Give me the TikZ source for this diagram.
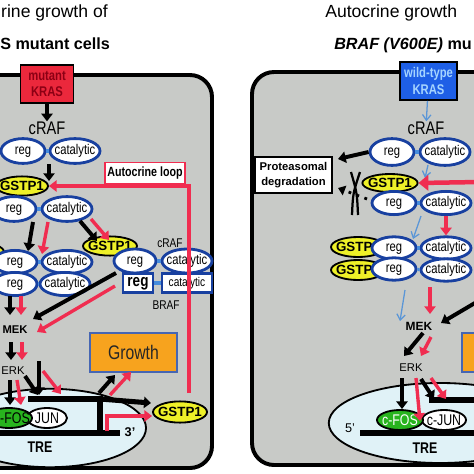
\documentclass[tikz,border=0pt]{standalone}
\usepackage{fontspec}
\setmainfont{Liberation Sans}
\newfontfamily\narrowfont{Liberation Sans}[FakeStretch=0.8]
\usetikzlibrary{arrows.meta,shapes.geometric,calc}

\definecolor{cellgray}{RGB}{200,202,199}
\definecolor{nucblue}{RGB}{224,242,247}
\definecolor{dimerblue}{RGB}{24,64,160}
\definecolor{linkblue}{RGB}{70,140,220}
\definecolor{thinblue}{RGB}{90,150,215}
\definecolor{sigred}{RGB}{240,45,80}
\definecolor{gstyellow}{RGB}{238,240,40}
\definecolor{fosgreen}{RGB}{40,180,30}
\definecolor{growthorange}{RGB}{247,163,30}
\definecolor{krasred}{RGB}{235,40,60}
\definecolor{krasblue}{RGB}{30,95,230}
\definecolor{krastext}{RGB}{140,0,20}
\definecolor{wttext}{RGB}{165,212,255}

\tikzset{
  cellwall/.style={draw=black, line width=2.8pt, fill=cellgray, rounded corners=0.55cm},
  nucleus/.style={draw=black, line width=1.3pt, fill=nucblue},
  dimer/.style={ellipse, draw=dimerblue, line width=2pt, fill=white, inner xsep=-2pt, inner ysep=0pt,
    text height=7pt, text depth=2pt, font=\narrowfont\fontsize{10}{12}\selectfont},
  regE/.style={dimer, minimum width=1.1cm, minimum height=0.62cm},
  catE/.style={dimer, minimum width=1.25cm, minimum height=0.62cm},
  dimerbox/.style={rectangle, draw=dimerblue, line width=2pt, fill=white, inner sep=0pt,
    minimum height=0.48cm, text height=7pt, text depth=2pt, font=\narrowfont\fontsize{9}{11}\selectfont},
  gstp/.style={ellipse, draw=black, line width=1.3pt, fill=gstyellow, inner xsep=-2pt, inner ysep=0pt,
    minimum width=1.3cm, minimum height=0.48cm, text height=7pt, text depth=0pt,
    font=\bfseries\fontsize{9.5}{11}\selectfont},
  factor/.style={ellipse, draw=black, line width=1.3pt, inner xsep=-2pt, inner ysep=0pt,
    minimum height=0.5cm, text height=7.5pt, text depth=0pt, font=\narrowfont\fontsize{11}{13}\selectfont},
  link/.style={draw=linkblue, line width=2.2pt},
  blk/.style={draw=black, line width=2.8pt, -{Triangle[length=5.5pt,width=8pt]}},
  redarr/.style={draw=sigred, line width=2.4pt, -{Triangle[length=5.5pt,width=8pt]}},
  bluearr/.style={draw=thinblue, line width=0.9pt, -{Straight Barb[length=4pt,width=6pt]}},
  dna/.style={draw=black, line width=3.6pt},
  krasbox/.style={rectangle, draw=black, line width=1.2pt, align=center, inner sep=0pt,
    minimum width=1.33cm, minimum height=0.95cm, font=\narrowfont\bfseries\fontsize{10}{11.5}\selectfont},
  growthbox/.style={rectangle, draw=dimerblue!80, line width=1pt, fill=growthorange,
    minimum width=2.175cm, minimum height=0.975cm, text=black!85, font=\narrowfont\fontsize{14}{16}\selectfont},
  titletext/.style={inner sep=0pt, font=\fontsize{12.5}{15}\selectfont},
  titlebold/.style={inner sep=0pt, font=\bfseries\fontsize{11.5}{14}\selectfont},
  crafbig/.style={inner sep=0pt, font=\narrowfont\fontsize{13}{15}\selectfont},
  smalltxt/.style={inner sep=0pt, font=\narrowfont\fontsize{9}{11}\selectfont},
  kinase/.style={inner sep=0pt, font=\fontsize{8}{10}\selectfont},
}

\begin{document}
\begin{tikzpicture}[x=0.025cm, y=-0.025cm]
  \useasboundingbox (0,0) rectangle (474,474);
  \clip (0,0) rectangle (474,474);

  % titles (cut by the frame)
  \node[titletext, anchor=base east] (titleL) at (108,17) {rine growth of};
  \node[titlebold, anchor=base west] (subL) at (0,49) {S mutant cells};
  \node[titletext, anchor=base west] (titleR) at (325,17) {Autocrine growth};
  \node[titlebold, anchor=base west] (subR) at (334,49) {\textit{BRAF (V600E)} mu};

  % cells and nuclei
  \draw[cellwall] (-60,75) rectangle (212,468);
  \draw[cellwall] (252,72) rectangle (560,465);
  \draw[nucleus] (50,428) ellipse [x radius=2.4cm, y radius=0.98cm];
  \draw[nucleus] (440,423) ellipse [x radius=2.78cm, y radius=1cm];

  % genes
  \draw[dna] (28,399) -- (100,399);
  \draw[dna, -{Triangle[length=5pt,width=8pt]}] (100,399) -- (151,403);
  \draw[dna] (100,396) -- (100,431);
  \draw[dna, line width=4.3pt] (-5,433) -- (120,433);
  \draw[dna] (429,400) -- (480,400);
  \draw[dna, line width=4.3pt] (360,433) -- (480,433);

  %%%% left cell: KRAS mutant
  \node[krasbox, fill=krasred, text=krastext] (krasL) at (47,84) {mutant\\KRAS};
  \node[crafbig] (crafL) at (47,128) {cRAF};
  \draw[blk] (krasL) -- (crafL);

  \node[regE] (regA) at (23,151) {reg};
  \node[catE] (catA) at (75,151) {catalytic};
  \draw[link] (regA) -- (catA);

  \node[gstp, inner xsep=-3.5pt] (gstA) at (22,186) {GSTP1};
  \node[regE] (regB) at (14,209) {reg};
  \node[catE] (catB) at (67,209) {catalytic};
  \draw[link] (regB) -- (catB);

  \node[gstp] (gstC) at (-22,252) {};
  \node[regE, minimum height=0.58cm] (regC) at (15,262) {reg};
  \node[catE, minimum height=0.58cm] (catC) at (67,262) {catalytic};
  \draw[link] (regC) -- (catC);
  \node[regE, minimum height=0.58cm] (regD) at (15,284) {reg};
  \node[catE, minimum height=0.58cm] (catD) at (65,284) {catalytic};
  \draw[link] (regD) -- (catD);

  % cRAF/BRAF heterodimer
  \node[gstp] (gstE) at (110,246) {GSTP1};
  \node[smalltxt] (crafS) at (170,243) {cRAF};
  \node[regE, minimum width=1.05cm, minimum height=0.6cm] (regH) at (135,261) {reg};
  \node[catE, minimum height=0.6cm] (catH) at (187,261) {catalytic};
  \draw[link] (regH) -- (catH);
  \node[dimerbox, minimum width=0.75cm, font=\narrowfont\bfseries\fontsize{12}{14}\selectfont] (regBR) at (138,283) {reg};
  \node[dimerbox, minimum width=1.25cm] (catBR) at (187,283) {catalytic};
  \draw[link] (regBR) -- (catBR);
  \node[smalltxt] (brafL) at (166,305) {BRAF};

  \node[kinase, font=\bfseries\fontsize{8}{10}\selectfont] (mekL) at (15,330) {MEK};
  \node[kinase] (erkL) at (13,371) {ERK};

  \node[factor, fill=white, minimum width=1cm] (junL) at (47,418) {JUN};
  \node[factor, fill=fosgreen, minimum width=1.15cm] (fosL) at (9,418) {};
  \node[inner sep=0pt, font=\narrowfont\fontsize{11}{13}\selectfont] (fosTxt) at (15,418) {-FOS};
  \node[gstp, minimum width=1.35cm, minimum height=0.53cm] (gstF) at (180,412) {GSTP1};
  \node[kinase, font=\bfseries\fontsize{9}{10}\selectfont] (endL) at (130,432) {3'};
  \node[kinase, font=\narrowfont\bfseries\fontsize{11}{13}\selectfont] (treL) at (40,447) {TRE};
  \node[growthbox] (growthL) at (133.5,352.5) {Growth};

  % autocrine loop
  \node[rectangle, draw=sigred, line width=1.2pt, fill=white, minimum width=2cm, minimum height=0.52cm,
    inner sep=0pt, font=\narrowfont\bfseries\fontsize{9.5}{11}\selectfont] (loopbox) at (145,173) {Autocrine loop};
  \coordinate (loopBot) at (189,393);
  \draw[redarr, line width=2.2pt] (loopBot) |- (gstA.east);

  % left signalling arrows
  \coordinate (l1s) at (49,164);  \coordinate (l1e) at (49,181);
  \coordinate (l2s) at (33,222);  \coordinate (l2e) at (28,251);
  \coordinate (l3s) at (48,222);  \coordinate (l3e) at (42,254);
  \coordinate (l4s) at (80,221);  \coordinate (l4e) at (97,241);
  \coordinate (l5s) at (91,219);  \coordinate (l5e) at (109,240);
  \coordinate (l6s) at (116,273); \coordinate (l6e) at (33,319);
  \coordinate (l7s) at (115,286); \coordinate (l7e) at (37,332);
  \coordinate (l8s) at (10,296);  \coordinate (l8e) at (10,315);
  \coordinate (l9s) at (21,296);  \coordinate (l9e) at (21,315);
  \coordinate (l10s) at (11,342); \coordinate (l10e) at (11,360);
  \coordinate (l11s) at (22,342); \coordinate (l11e) at (22,360);
  \coordinate (l12s) at (10,380); \coordinate (l12e) at (10,405);
  \coordinate (l13s) at (17,380); \coordinate (l13e) at (21,405);
  \coordinate (l14s) at (25,376); \coordinate (l14e) at (38,395);
  \coordinate (l15s) at (39,361); \coordinate (l15e) at (39,395);
  \coordinate (l16s) at (43,371); \coordinate (l16e) at (61,394);
  \coordinate (l17s) at (99,393); \coordinate (l17e) at (115,375);
  \coordinate (l18s) at (110,395); \coordinate (l18e) at (131,372);
  \draw[blk] (l1s) -- (l1e);
  \draw[blk] (l2s) -- (l2e);
  \draw[redarr] (l3s) -- (l3e);
  \draw[blk] (l4s) -- (l4e);
  \draw[redarr] (l5s) -- (l5e);
  \draw[blk] (l6s) -- (l6e);
  \draw[redarr] (l7s) -- (l7e);
  \draw[blk] (l8s) -- (l8e);
  \draw[redarr] (l9s) -- (l9e);
  \draw[blk] (l10s) -- (l10e);
  \draw[redarr] (l11s) -- (l11e);
  \draw[blk] (l12s) -- (l12e);
  \draw[redarr] (l13s) -- (l13e);
  \draw[blk] (l14s) -- (l14e);
  \draw[blk] (l15s) -- (l15e);
  \draw[redarr] (l16s) -- (l16e);
  \draw[blk] (l17s) -- (l17e);
  \draw[redarr] (l18s) -- (l18e);
  \coordinate (r1) at (107,431); \coordinate (r2) at (107,416);
  \draw[redarr] (r1) -- (r2) -- (gstF.west |- r2);

  %%%% right cell: BRAF mutant
  \node[krasbox, fill=krasblue, text=wttext, minimum width=1.43cm] (krasR) at (428.5,81) {wild-type\\KRAS};
  \node[crafbig] (crafR) at (426,128) {cRAF};
  \draw[bluearr] (krasR) -- (crafR);

  \node[rectangle, draw=black, line width=1pt, fill=white, minimum width=1.93cm, minimum height=0.9cm,
    align=center, inner sep=0pt, font=\bfseries\fontsize{8}{11}\selectfont] (protbox) at (293.5,175) {Proteasomal\\degradation};

  \node[regE, minimum height=0.67cm] (regR1) at (392,152) {reg};
  \node[catE, minimum height=0.67cm] (catR1) at (445,152) {catalytic};
  \draw[link] (regR1) -- (catR1);
  \node[gstp, minimum width=1.38cm, minimum height=0.45cm] (gstR) at (390,183) {GSTP1};
  \node[regE, minimum height=0.58cm] (regR2) at (394,203) {reg};
  \node[catE, minimum height=0.58cm] (catR2) at (446,203) {catalytic};
  \draw[link] (regR2) -- (catR2);

  \node[gstp, minimum height=0.5cm] (gstR3) at (358,247) {GSTP1};
  \node[gstp, minimum height=0.5cm] (gstR4) at (358,270) {GSTP1};
  \node[regE, minimum height=0.56cm] (regR3) at (394,248) {reg};
  \node[catE, minimum height=0.56cm] (catR3) at (446,248) {catalytic};
  \draw[link] (regR3) -- (catR3);
  \node[regE, minimum height=0.56cm] (regR4) at (394,269) {reg};
  \node[catE, minimum height=0.56cm] (catR4) at (446,270) {catalytic};
  \draw[link] (regR4) -- (catR4);

  \node[kinase, font=\bfseries\fontsize{8.5}{10}\selectfont] (mekR) at (419,326) {MEK};
  \node[kinase] (erkR) at (411,368) {ERK};
  \node[factor, fill=white, minimum width=1.1cm] (junR) at (444,420) {c-JUN};
  \node[factor, fill=fosgreen, minimum width=1.15cm, text=white] (fosR) at (400,420) {c-FOS};
  \node[kinase, font=\fontsize{9}{10}\selectfont] (startR) at (350,428) {5'};
  \node[kinase, font=\narrowfont\bfseries\fontsize{11}{13}\selectfont] (treR) at (425,448) {TRE};
  \node[growthbox] (growthR) at (505.5,352.5) {};

  % degradation, blocked by GSTP1
  \coordinate (p1) at (338,159);
  \coordinate (p2) at (367,199); \coordinate (p3) at (338,188);
  \draw[blk] (regR1.west) -- (p1);
  \draw[draw=black, line width=2pt, dash pattern=on 2pt off 4pt, -{Triangle[length=5pt,width=7pt]}] (p2) -- (p3);
  \draw[line width=1.6pt] (351,172) .. controls (357,193) .. (358,215);
  \draw[line width=1.6pt] (360,172) .. controls (353,193) .. (352,215);

  % right signalling arrows
  \coordinate (b1s) at (428,165); \coordinate (b1e) at (425,178);
  \coordinate (b2s) at (421,216); \coordinate (b2e) at (413,239);
  \coordinate (b3s) at (405,290); \coordinate (b3e) at (400,321);
  \coordinate (rr1) at (480,182);
  \coordinate (rr2s) at (430,287); \coordinate (rr2e) at (430,314);
  \coordinate (k1s) at (480,300); \coordinate (k1e) at (441,323);
  \coordinate (k2s) at (423,333); \coordinate (k2e) at (404,356);
  \coordinate (rr3s) at (431,337); \coordinate (rr3e) at (421,356);
  \coordinate (k3s) at (402,378);
  \coordinate (rr4s) at (416,378); \coordinate (rr4e) at (420,421);
  \coordinate (k4s) at (421,379); \coordinate (k4e) at (434,399);
  \coordinate (rr5s) at (431,378); \coordinate (rr5e) at (446,399);
  \draw[bluearr] (b1s) -- (b1e);
  \draw[redarr, line width=3.2pt, -{Triangle[length=7pt,width=11pt]}] (rr1) -- (gstR.east);
  \draw[bluearr] (b2s) -- (b2e);
  \draw[redarr] (catR2.south) -- (catR3.north);
  \draw[bluearr] (b3s) -- (b3e);
  \draw[redarr] (rr2s) -- (rr2e);
  \draw[blk] (k1s) -- (k1e);
  \draw[blk] (k2s) -- (k2e);
  \draw[redarr] (rr3s) -- (rr3e);
  \draw[blk] (k3s) -- (k3s |- fosR.north);
  \draw[redarr] (rr4s) -- (rr4e);
  \draw[blk] (k4s) -- (k4e);
  \draw[redarr] (rr5s) -- (rr5e);
\end{tikzpicture}
\end{document}
